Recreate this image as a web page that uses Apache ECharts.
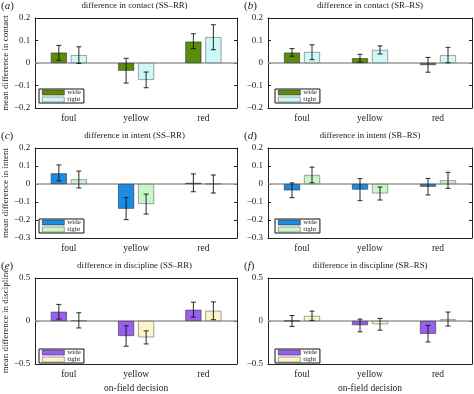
<!DOCTYPE html>
<html><head><meta charset="utf-8">
<script src="https://cdn.jsdelivr.net/npm/echarts@6/dist/echarts.min.js"></script>
<style>html,body{margin:0;padding:0;background:#fff}#c{width:474px;height:394px}</style>
</head><body><div id="c"></div>
<script>
const categories = ['foul', 'yellow', 'red'];

// (a) contact SS–RR
const contactSSRR_wide = [0.046, -0.034, 0.095];
const contactSSRR_wideLo = [0.012, -0.089, 0.064];
const contactSSRR_wideHi = [0.078, 0.021, 0.130];
const contactSSRR_tight = [0.035, -0.075, 0.115];
const contactSSRR_tightLo = [-0.002, -0.110, 0.059];
const contactSSRR_tightHi = [0.072, -0.040, 0.170];

// (b) contact SR–RS
const contactSRRS_wide = [0.046, 0.021, -0.009];
const contactSRRS_wideLo = [0.030, 0.004, -0.041];
const contactSRRS_wideHi = [0.064, 0.039, 0.025];
const contactSRRS_tight = [0.049, 0.058, 0.035];
const contactSRRS_tightLo = [0.015, 0.040, 0.001];
const contactSRRS_tightHi = [0.081, 0.076, 0.070];

// (c) intent SS–RR
const intentSSRR_wide = [0.059, -0.137, 0.006];
const intentSSRR_wideLo = [0.017, -0.198, -0.043];
const intentSSRR_wideHi = [0.106, -0.076, 0.056];
const intentSSRR_tight = [0.026, -0.111, 0.001];
const intentSSRR_tightLo = [-0.022, -0.167, -0.050];
const intentSSRR_tightHi = [0.072, -0.056, 0.050];

// (d) intent SR–RS
const intentSRRS_wide = [-0.035, -0.031, -0.015];
const intentSRRS_wideLo = [-0.076, -0.093, -0.061];
const intentSRRS_wideHi = [0.006, 0.030, 0.031];
const intentSRRS_tight = [0.050, -0.052, 0.020];
const intentSRRS_tightLo = [0.007, -0.089, -0.024];
const intentSRRS_tightHi = [0.094, -0.017, 0.065];

// (e) discipline SS–RR
const disciplineSSRR_wide = [0.107, -0.174, 0.130];
const disciplineSSRR_wideLo = [0.022, -0.293, 0.044];
const disciplineSSRR_wideHi = [0.193, -0.056, 0.219];
const disciplineSSRR_tight = [0.007, -0.189, 0.119];
const disciplineSSRR_tightLo = [-0.081, -0.267, 0.015];
const disciplineSSRR_tightHi = [0.096, -0.115, 0.222];

// (f) discipline SR–RS
const disciplineSRRS_wide = [0.002, -0.048, -0.148];
const disciplineSRRS_wideLo = [-0.063, -0.126, -0.244];
const disciplineSRRS_wideHi = [0.063, 0.022, -0.052];
const disciplineSRRS_tight = [0.059, -0.037, 0.022];
const disciplineSRRS_tightLo = [0.007, -0.107, -0.059];
const disciplineSRRS_tightHi = [0.115, 0.030, 0.104];

const panelTitles = ['difference in contact (SS\u2013RR)', 'difference in contact (SR\u2013RS)',
  'difference in intent (SS\u2013RR)', 'difference in intent (SR\u2013RS)',
  'difference in discipline (SS\u2013RR)', 'difference in discipline (SR\u2013RS)'];
const panelLetters = ['a', 'b', 'c', 'd', 'e', 'f'];
const yNames = ['mean difference in contact', 'mean difference in intent', 'mean difference in discipline'];
const xName = 'on-field decision';
const yRanges = [[-0.2, 0.2, 0.1], [-0.3, 0.2, 0.1], [-0.5, 0.5, 0.5]];

const panels = [
  [contactSSRR_wide, contactSSRR_wideLo, contactSSRR_wideHi, contactSSRR_tight, contactSSRR_tightLo, contactSSRR_tightHi],
  [contactSRRS_wide, contactSRRS_wideLo, contactSRRS_wideHi, contactSRRS_tight, contactSRRS_tightLo, contactSRRS_tightHi],
  [intentSSRR_wide, intentSSRR_wideLo, intentSSRR_wideHi, intentSSRR_tight, intentSSRR_tightLo, intentSSRR_tightHi],
  [intentSRRS_wide, intentSRRS_wideLo, intentSRRS_wideHi, intentSRRS_tight, intentSRRS_tightLo, intentSRRS_tightHi],
  [disciplineSSRR_wide, disciplineSSRR_wideLo, disciplineSSRR_wideHi, disciplineSSRR_tight, disciplineSSRR_tightLo, disciplineSSRR_tightHi],
  [disciplineSRRS_wide, disciplineSRRS_wideLo, disciplineSRRS_wideHi, disciplineSRRS_tight, disciplineSRRS_tightLo, disciplineSRRS_tightHi]
];

const rowColors = [['#5b8c0c', '#cef7f7'], ['#1b8be3', '#c9f5c9'], ['#9a5ff2', '#f9f7c9']];

const FONT = '"Liberation Serif", "DejaVu Serif", serif';
const rowTops = [18, 148, 278];
const colLefts = [32, 268];
const W = [205, 204];
const H = 90;

const grid = [], xAxis = [], yAxis = [], series = [], legend = [], graphic = [];

function fmt(v) {
  const r = Math.round(v * 10) / 10;
  if (Math.abs(r) < 1e-9) return '0';
  return (r < 0 ? '\u2212' : '') + Math.abs(r).toFixed(1);
}

function errItem(offset) {
  return function (params, api) {
    const i = api.value(0);
    const lo = api.coord([i, api.value(1)]);
    const hi = api.coord([i, api.value(2)]);
    const x = lo[0] + offset;
    const cap = 2.5;
    const st = { stroke: '#111', lineWidth: 0.9 };
    return {
      type: 'group',
      children: [
        { type: 'line', shape: { x1: x, y1: lo[1], x2: x, y2: hi[1] }, style: st },
        { type: 'line', shape: { x1: x - cap, y1: lo[1], x2: x + cap, y2: lo[1] }, style: st },
        { type: 'line', shape: { x1: x - cap, y1: hi[1], x2: x + cap, y2: hi[1] }, style: st }
      ]
    };
  };
}

for (let p = 0; p < 6; p++) {
  const row = Math.floor(p / 2), col = p % 2;
  const left = colLefts[col], top = rowTops[row];
  grid.push({ left: left, top: top, width: W[col], height: H, show: false });
  const xb = xAxis.length;
  xAxis.push({
    type: 'category', gridIndex: p, data: categories, position: 'bottom',
    axisLine: { onZero: false, lineStyle: { color: '#222', width: 1 } },
    axisTick: { inside: true, length: 3, alignWithLabel: true, lineStyle: { color: '#222' } },
    axisLabel: { fontFamily: FONT, fontSize: 9.5, color: '#222', margin: 5 },
    name: row === 2 ? xName : '', nameLocation: 'middle', nameGap: 19,
    nameTextStyle: { fontFamily: FONT, fontSize: 9.5, color: '#222' }
  });
  xAxis.push({
    type: 'category', gridIndex: p, data: categories, position: 'top',
    axisLine: { onZero: false, lineStyle: { color: '#222', width: 1 } },
    axisTick: { inside: true, length: 3, alignWithLabel: true, lineStyle: { color: '#222' } },
    axisLabel: { show: false }
  });
  const yr = yRanges[row];
  const yb = yAxis.length;
  yAxis.push({
    type: 'value', gridIndex: p, min: yr[0], max: yr[1], interval: yr[2], position: 'left',
    splitLine: { show: false },
    axisLine: { show: true, onZero: false, lineStyle: { color: '#222', width: 1 } },
    axisTick: { show: true, inside: true, length: 3, lineStyle: { color: '#222' } },
    axisLabel: { fontFamily: FONT, fontSize: 9, color: '#222', margin: 5, formatter: fmt },
    name: col === 0 ? yNames[row] : '', nameLocation: 'middle', nameGap: 21,
    nameTextStyle: { fontFamily: FONT, fontSize: 9, color: '#222' }
  });
  yAxis.push({
    type: 'value', gridIndex: p, min: yr[0], max: yr[1], interval: yr[2], position: 'right',
    splitLine: { show: false },
    axisLine: { show: true, onZero: false, lineStyle: { color: '#222', width: 1 } },
    axisTick: { show: true, inside: true, length: 3, lineStyle: { color: '#222' } },
    axisLabel: { show: false }
  });
  const d = panels[p];
  const cols = rowColors[row];
  series.push({
    type: 'bar', name: 'wide', xAxisIndex: xb, yAxisIndex: yb, data: d[0],
    barWidth: 16, barGap: '25%',
    itemStyle: { color: cols[0], borderColor: '#333', borderWidth: 0.6 },
    markLine: {
      silent: true, symbol: 'none', label: { show: false },
      lineStyle: { color: '#9a9a9a', width: 1.5, type: 'solid' },
      data: [{ yAxis: 0 }], z: 1
    },
    z: 2
  });
  series.push({
    type: 'bar', name: 'tight', xAxisIndex: xb, yAxisIndex: yb, data: d[3],
    barWidth: 16, barGap: '25%',
    itemStyle: { color: cols[1], borderColor: '#666', borderWidth: 0.6 },
    z: 2
  });
  series.push({
    type: 'custom', xAxisIndex: xb, yAxisIndex: yb, silent: true, z: 5,
    renderItem: errItem(-10),
    data: categories.map((c, i) => [i, d[1][i], d[2][i]])
  });
  series.push({
    type: 'custom', xAxisIndex: xb, yAxisIndex: yb, silent: true, z: 5,
    renderItem: errItem(10),
    data: categories.map((c, i) => [i, d[4][i], d[5][i]])
  });
  legend.push({
    left: left + 7, top: top + 71, orient: 'vertical',
    padding: [0, 3, 0, 3], itemGap: 0, itemWidth: 22, itemHeight: 5,
    borderColor: '#111', borderWidth: 1, backgroundColor: '#fff',
    selectedMode: false, icon: 'rect',
    textStyle: { fontFamily: FONT, fontSize: 7, color: '#222', lineHeight: 7, padding: [0, 0, 0, -2] },
    data: [
      { name: 'wide', itemStyle: { color: cols[0], borderColor: '#333', borderWidth: 0.6 } },
      { name: 'tight', itemStyle: { color: cols[1], borderColor: '#666', borderWidth: 0.6 } }
    ]
  });
  graphic.push({
    type: 'text', x: left + W[col] / 2, y: top - 12,
    style: { text: panelTitles[p], font: '8.8px ' + FONT, fill: '#222', align: 'center', verticalAlign: 'middle' }
  });
  graphic.push({
    type: 'text', x: col === 0 ? 1 : 244, y: top - 12,
    style: { rich: {
      p: { font: '11px ' + FONT, fill: '#222' },
      i: { font: 'italic 11px ' + FONT, fill: '#222' }
    }, text: '{p|(}{i|' + panelLetters[p] + '}{p|)}', align: 'left', verticalAlign: 'middle' }
  });
}

const chart = echarts.init(document.getElementById('c'), null, { renderer: 'canvas' });
chart.setOption({
  animation: false,
  backgroundColor: '#fff',
  grid: grid, xAxis: xAxis, yAxis: yAxis, series: series, legend: legend, graphic: graphic
});
</script></body></html>
